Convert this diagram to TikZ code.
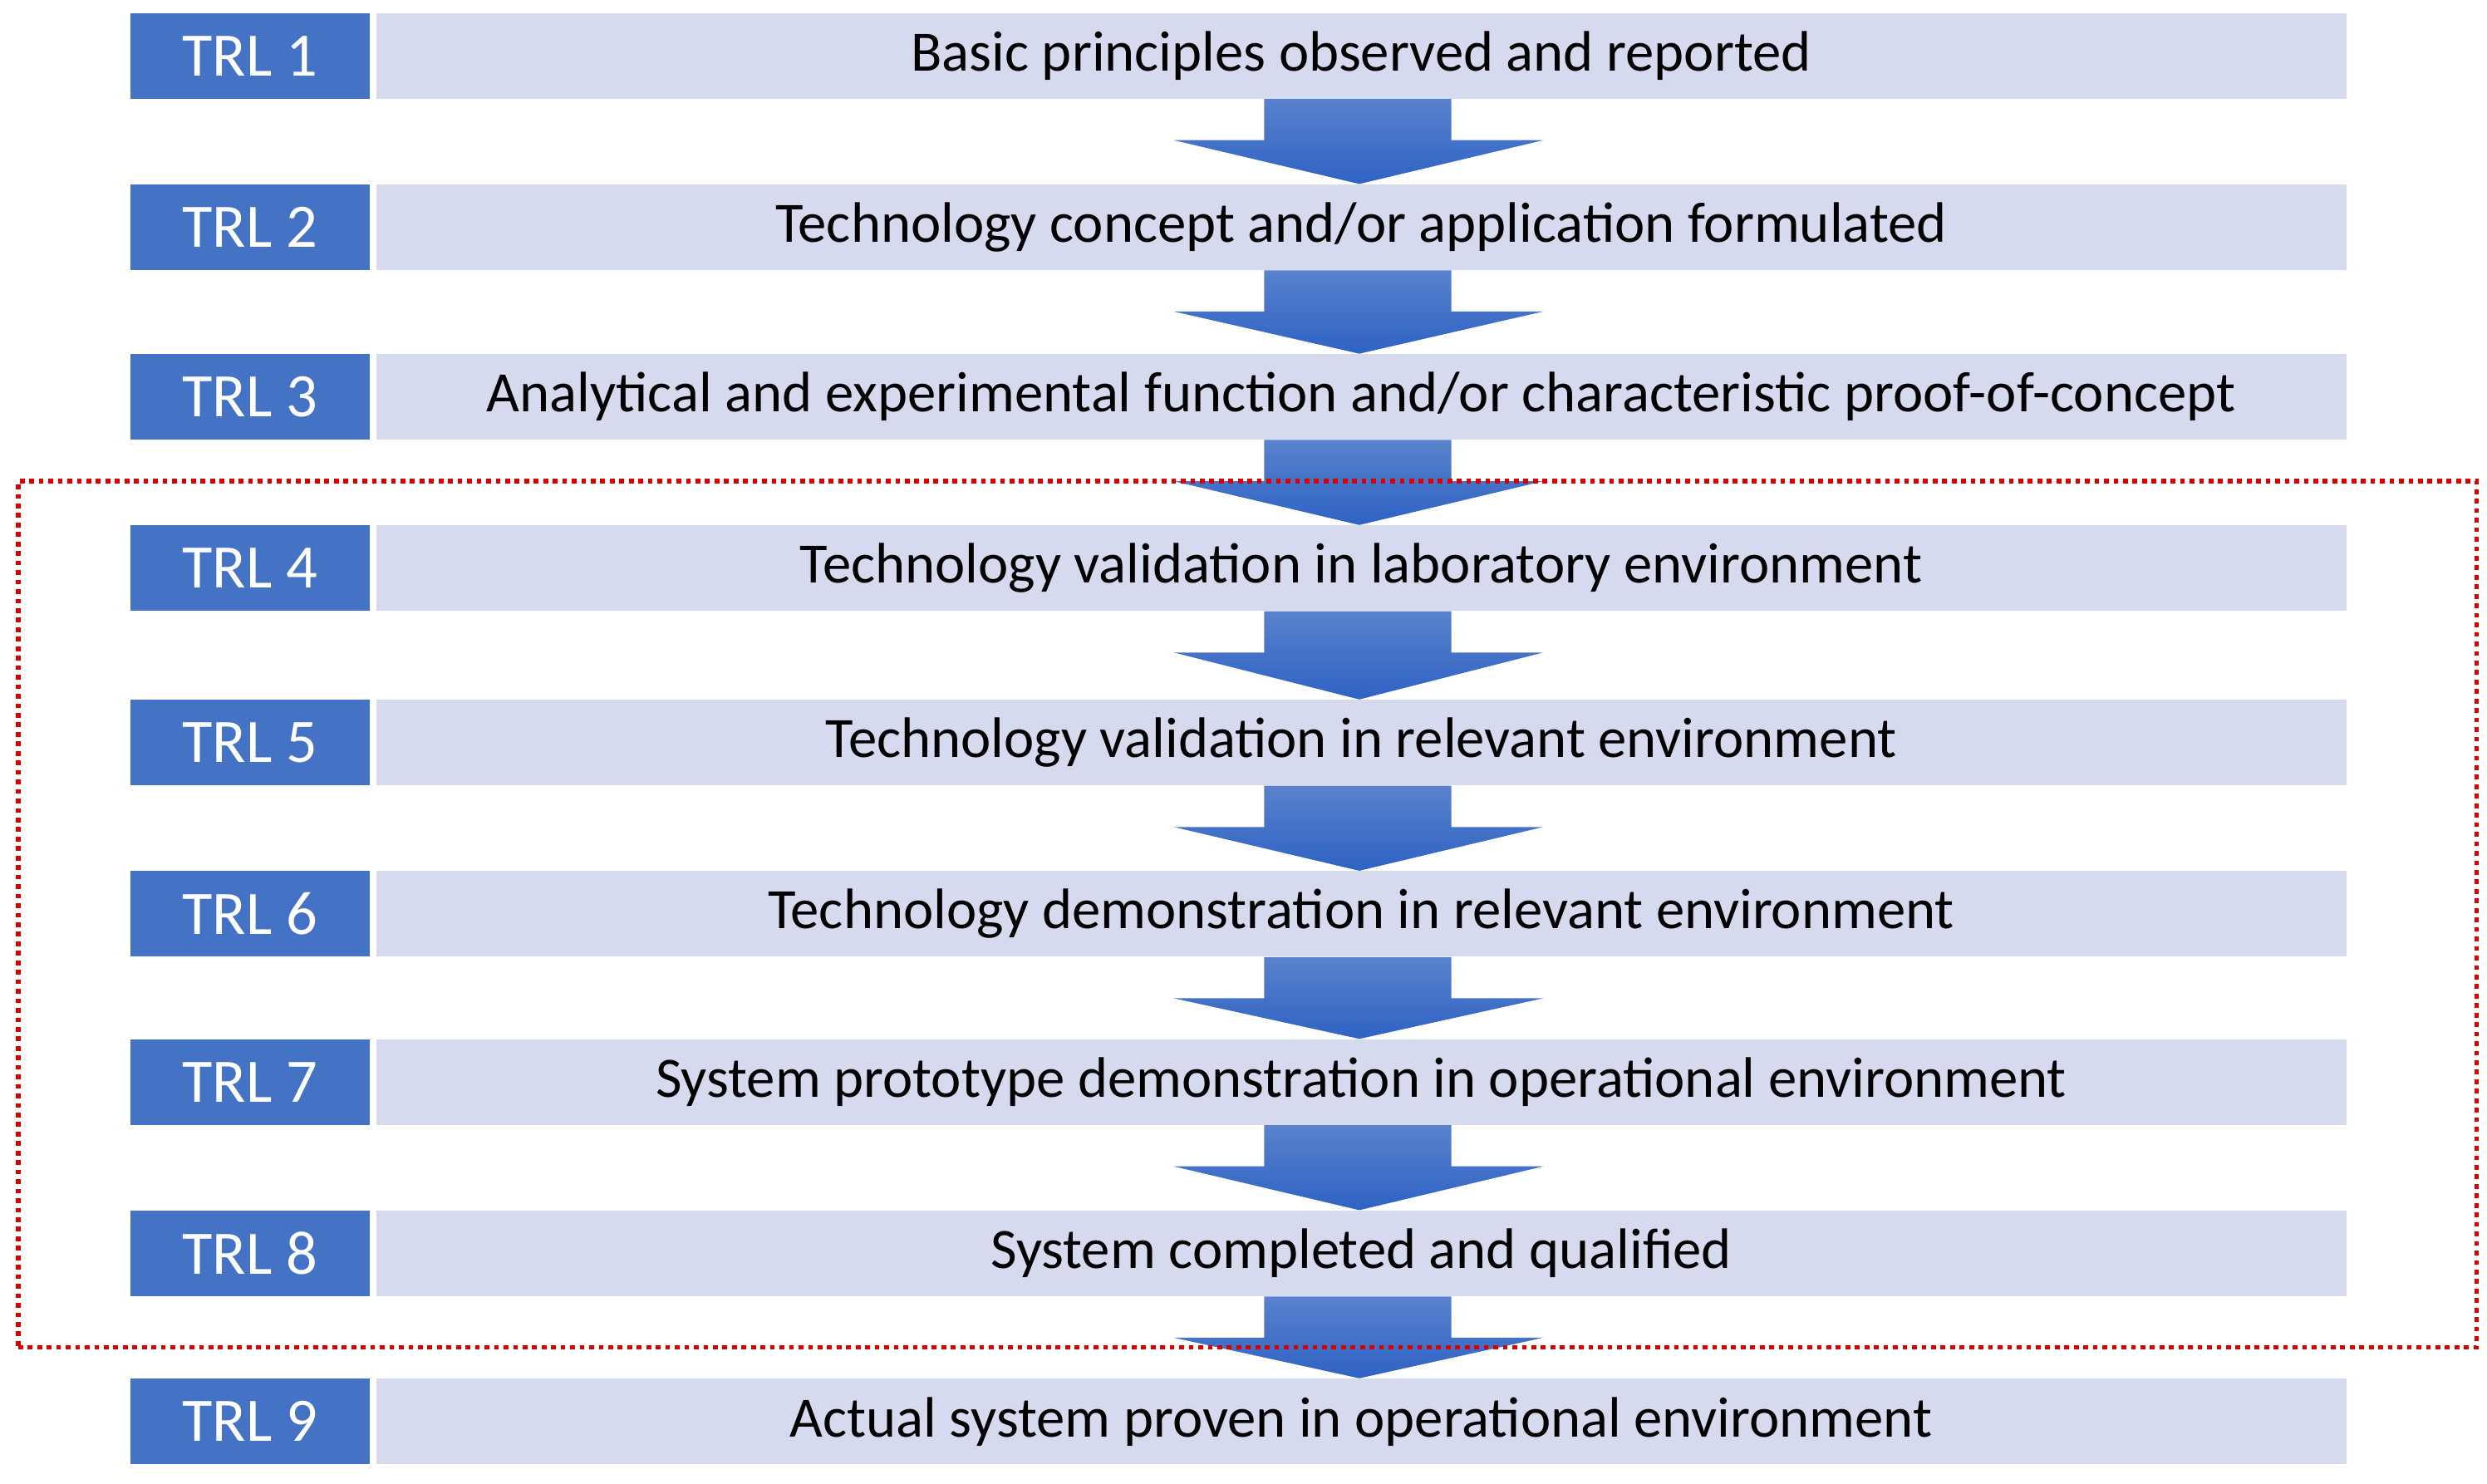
\documentclass[tikz,border=0pt]{standalone}
\usepackage{fontspec}
\setmainfont{Carlito}
\begin{document}
\begin{tikzpicture}[x=1pt,y=-1pt,
  trl/.style={fill=trlblue,text=white,minimum width=151pt,minimum height=54pt,inner sep=0pt,font=\fontsize{39}{39}\selectfont,anchor=north west},
  bar/.style={fill=barfill,text=black,minimum width=1242pt,minimum height=54pt,inner sep=0pt,font=\fontsize{36}{36}\selectfont,anchor=north west},
  darrow/.style={top color=arrtop,bottom color=arrbot,draw=none}]
\definecolor{trlblue}{HTML}{4472C4}
\definecolor{barfill}{HTML}{D6DAEE}
\definecolor{arrtop}{HTML}{5A82CC}
\definecolor{arrbot}{HTML}{2E62C4}
\useasboundingbox (0,0) rectangle (1568,935.6);
\def\rows{8/1/{Basic principles observed and reported},
116/2/{Technology concept and/or application formulated},
223/3/{Analytical and experimental function and/or characteristic proof-of-concept},
331/4/{Technology validation in laboratory environment},
441/5/{Technology validation in relevant environment},
549/6/{Technology demonstration in relevant environment},
655/7/{System prototype demonstration in operational environment},
763/8/{System completed and qualified},
869/9/{Actual system proven in operational environment}}
\foreach \y/\n/\t in \rows {
  \node[trl] (t\n) at (82,\y) {TRL \n};
  \node[bar] (b\n) at (237,\y) {\raisebox{4pt}{\t}};
}
\foreach \a/\b in {1/2,2/3,3/4,4/5,5/6,6/7,7/8,8/9}{
  \path[darrow] (b\a.south -| 797,0) -- (b\a.south -| 915,0) -- ([yshift=-26]b\a.south -| 915,0)
     -- ([yshift=-26]b\a.south -| 973,0) -- (b\b.north -| 857,0) -- ([yshift=-26]b\a.south -| 740,0)
     -- ([yshift=-26]b\a.south -| 797,0) -- cycle;
}
\node[draw=red!85!black,line width=3pt,dash pattern=on 3pt off 3pt,minimum width=1550pt,minimum height=546pt,anchor=north west,inner sep=0pt] (box) at (10,302) {};
\end{tikzpicture}
\end{document}
